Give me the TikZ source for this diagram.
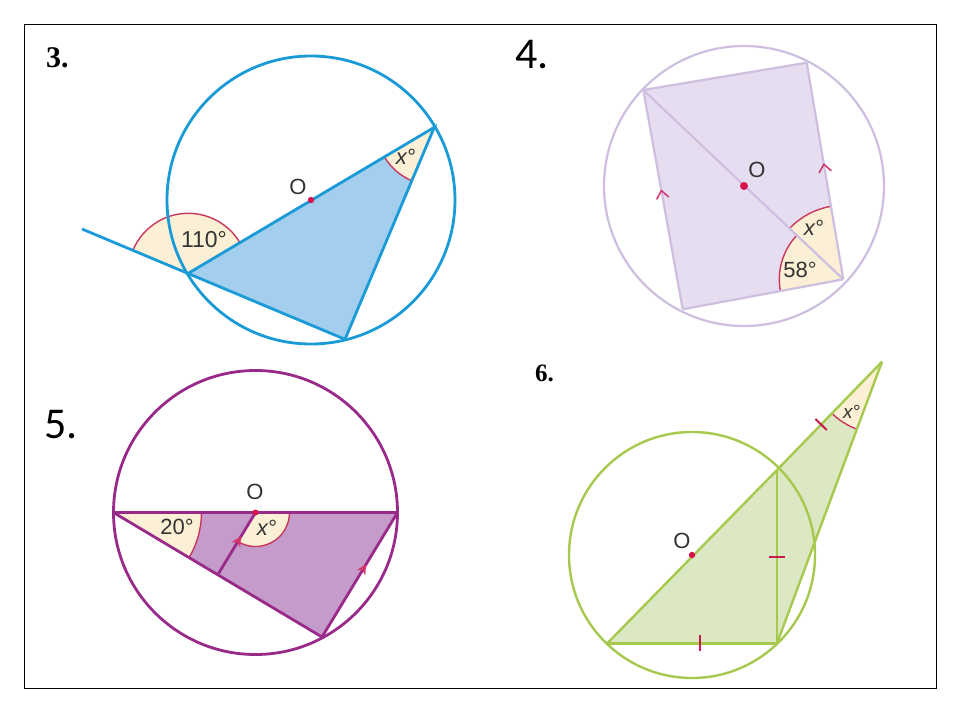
\documentclass[tikz,border=0pt]{standalone}
\usepackage{fontspec}
\setmainfont{Liberation Sans}
\newfontfamily\calib{Carlito}
\newfontfamily\serifb{Liberation Serif}
\usetikzlibrary{angles,calc,decorations.markings,arrows.meta}
\definecolor{bstroke}{HTML}{1A9BD7}
\definecolor{bfill}{HTML}{A3CEEE}
\definecolor{cream}{HTML}{FBF0D5}
\definecolor{arcred}{HTML}{C8385E}
\definecolor{lstroke}{HTML}{CEBFE0}
\definecolor{lfill}{HTML}{E6DDF1}
\definecolor{pinkm}{HTML}{D4336B}
\definecolor{pstroke}{HTML}{992A8A}
\definecolor{pfill}{HTML}{C59BCB}
\definecolor{gstroke}{HTML}{A6C94E}
\definecolor{gfill}{HTML}{DCE8C4}
\definecolor{dotred}{HTML}{D8124A}
\definecolor{tickred}{HTML}{C8194B}
\definecolor{labgray}{HTML}{333333}
\tikzset{
  lbl/.style={font=\fontsize{22}{26}\selectfont, text=labgray, inner sep=0pt},
  arcmark/.style={draw=arcred, fill=cream, line width=1.4pt},
  tickmark/.style={postaction={decorate}, decoration={markings, mark=at position #1 with {\draw[tickred, line width=2pt] (0pt,-8pt) -- (0pt,8pt);}}},
  parr/.style={postaction={decorate}, decoration={markings, mark=at position #1 with {\draw[pinkm, line width=1.5pt, line cap=round, line join=round] (-5pt,-6pt) -- (2.5pt,0pt) -- (-5pt,6pt);}}},
  farr/.style={postaction={decorate}, decoration={markings, mark=at position #1 with {\fill[pinkm] (5pt,0pt) -- (-5pt,5pt) -- (-2pt,0pt) -- (-5pt,-5pt) -- cycle;}}}
}
\begin{document}
\begin{tikzpicture}[x=1pt,y=-1pt]
\useasboundingbox (0,0) rectangle (960,720);
\fill[white] (0,0) rectangle (960,720);
\draw[black, line width=1pt] (24,24) rectangle (936,688);

% ---------- 3 ----------
\node[anchor=base west, inner sep=0pt, font=\serifb\bfseries\fontsize{30}{34}\selectfont] (n3) at (46,67) {3.};
\coordinate (O3) at (311,200);
\coordinate (A3) at (188.3,273.3);
\coordinate (B3) at (434.3,127.3);
\coordinate (C3) at (345,339.3);
\coordinate (T3) at (82,229);
\fill[bfill] (A3) -- (B3) -- (C3) -- cycle;
\pic[arcmark, angle radius=60pt] {angle=B3--A3--T3};
\pic[arcmark, angle radius=58pt] {angle=A3--B3--C3};
\draw[bstroke, line width=2.8pt] (O3) circle[radius=144];
\draw[bstroke, line width=2.8pt] (T3) -- (C3);
\draw[bstroke, line width=2.8pt] (A3) -- (B3) -- (C3);
\fill[dotred] (O3) circle[radius=3.2];
\node[lbl] (o3) at (298,187) {O};
\node[lbl, font=\fontsize{23}{27}\selectfont] (a3) at (204,240) {110°};
\node[lbl] (x3) at (406,157) {\textit{x}°};

% ---------- 4 ----------
\node[anchor=base west, inner sep=0pt, font=\calib\fontsize{44}{48}\selectfont] (n4) at (515,68) {4.};
\coordinate (O4) at (744,186);
\coordinate (TL) at (643.3,90);
\coordinate (TR) at (806.7,62.7);
\coordinate (BR) at (843.3,279.3);
\coordinate (BL) at (682.7,309.3);
\fill[lfill] (TL) -- (TR) -- (BR) -- (BL) -- cycle;
\pic[arcmark, angle radius=74pt] {angle=TR--BR--TL};
\pic[arcmark, angle radius=64pt] {angle=TL--BR--BL};
\draw[lstroke, line width=2.2pt] (O4) circle[radius=140];
\draw[lstroke, line width=2.2pt] (BL) -- (BR);
\draw[lstroke, line width=2.2pt] (TL) -- (TR);
\draw[lstroke, line width=2.2pt, parr=0.53] (BL) -- (TL);
\draw[lstroke, line width=2.2pt, parr=0.52] (BR) -- (TR);
\draw[lstroke, line width=2.2pt] (TL) -- (BR);
\fill[dotred] (O4) circle[radius=4];
\node[lbl] (o4) at (757,170) {O};
\node[lbl] (x4) at (814,228) {\textit{x}°};
\node[lbl] (a4) at (800,270) {58°};

% ---------- 5 ----------
\node[anchor=base west, inner sep=0pt, font=\calib\fontsize{44}{48}\selectfont] (n5) at (44,438) {5.};
\coordinate (O5) at (255.5,512.5);
\coordinate (L5) at (113.5,512.5);
\coordinate (R5) at (397.5,512.5);
\coordinate (P5) at (322,637);
\coordinate (Q5) at ($(L5)!0.5!(P5)$);
\fill[pfill] (L5) -- (P5) -- (R5) -- cycle;
\pic[arcmark, angle radius=88pt] {angle=P5--L5--R5};
\pic[arcmark, angle radius=34pt] {angle=Q5--O5--R5};
\draw[pstroke, line width=2.8pt] (O5) circle[radius=142];
\draw[pstroke, line width=2.8pt] (L5) -- (R5);
\draw[pstroke, line width=2.8pt] (L5) -- (P5);
\draw[pstroke, line width=2.8pt, farr=0.55] (P5) -- (R5);
\draw[pstroke, line width=2.8pt, farr=0.55] (Q5) -- (O5);
\fill[dotred] (O5) circle[radius=3];
\node[lbl] (o5) at (255,492) {O};
\node[lbl] (a5) at (177,527) {20°};
\node[lbl] (x5) at (267,528) {\textit{x}°};

% ---------- 6 ----------
\node[anchor=base west, inner sep=0pt, font=\serifb\bfseries\fontsize{25}{29}\selectfont] (n6) at (535,381) {6.};
\coordinate (O6) at (692,555);
\coordinate (A6) at (607.3,643.3);
\coordinate (B6) at (777,643.3);
\coordinate (C6) at (777,470);
\coordinate (D6) at (882,361.7);
\fill[gfill] (A6) -- (B6) -- (D6) -- cycle;
\pic[arcmark, angle radius=72pt] {angle=C6--D6--B6};
\draw[gstroke, line width=2.4pt] (O6) circle[radius=123];
\draw[gstroke, line width=2.4pt, tickmark=0.545] (A6) -- (B6);
\draw[gstroke, line width=2.4pt, tickmark=0.5] (B6) -- (C6);
\draw[gstroke, line width=2.4pt] (A6) -- (C6);
\draw[gstroke, line width=2.4pt, tickmark=0.42] (C6) -- (D6);
\draw[gstroke, line width=2.4pt] (D6) -- (B6);
\fill[dotred] (O6) circle[radius=3.2];
\node[lbl] (o6) at (682,541) {O};
\node[lbl, font=\fontsize{19}{22}\selectfont] (x6) at (852,412) {\textit{x}°};
\end{tikzpicture}
\end{document}
